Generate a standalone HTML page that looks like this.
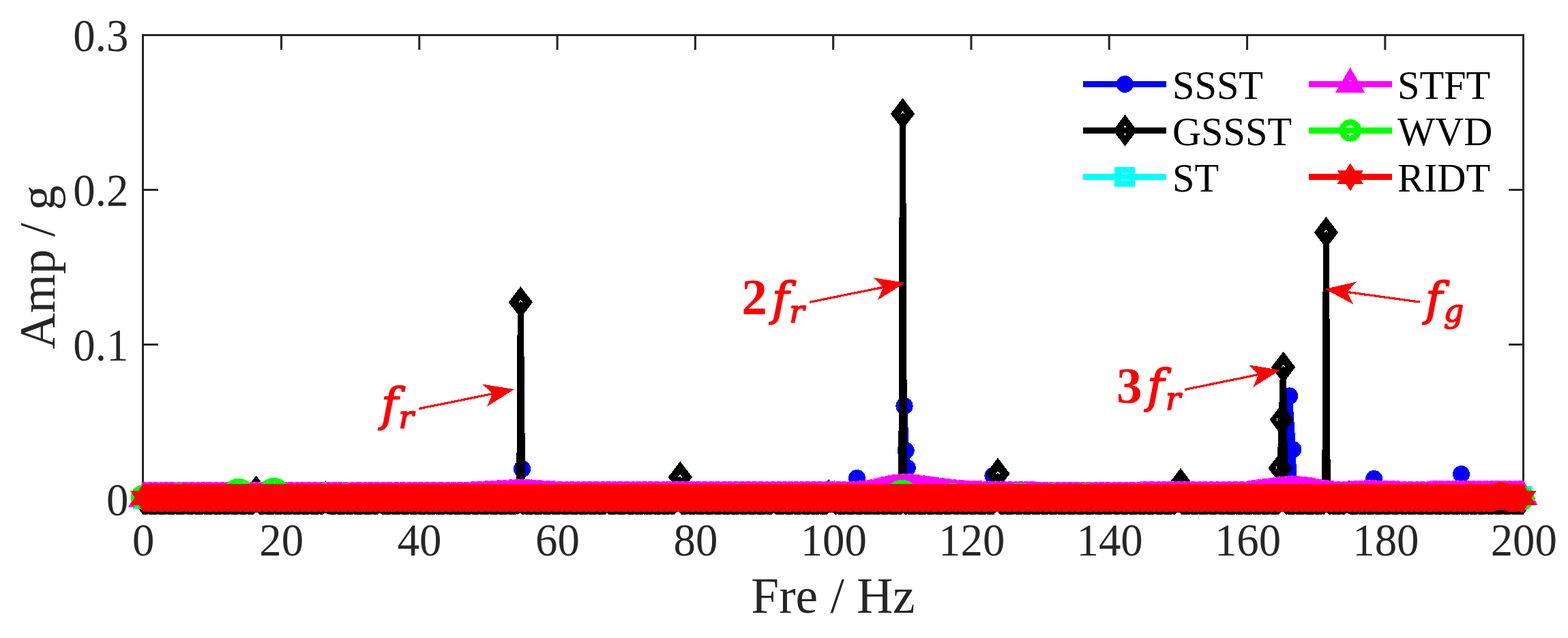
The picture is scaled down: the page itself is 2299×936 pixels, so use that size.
<!DOCTYPE html>
<html lang="en"><head><meta charset="utf-8"><title>Fre / Hz vs Amp / g</title>
<style>html,body{margin:0;padding:0;background:#fff}body{width:2299px;height:936px;overflow:hidden}svg{display:block}text{font-family:"Liberation Serif","DejaVu Serif",serif}</style></head><body>
<svg width="2299" height="936" viewBox="0 0 2299 936">
<rect width="2299" height="936" fill="#fff"/>
<g fill="#262626">
<rect x="208" y="50" width="2027" height="3"/>
<rect x="208" y="731" width="2027" height="3"/>
<rect x="208" y="50" width="3" height="684"/>
<rect x="2232" y="50" width="3" height="684"/>
<rect x="410.94" y="53" width="3.1" height="20"/>
<rect x="410.94" y="711" width="3.1" height="20"/>
<rect x="613.23" y="53" width="3.1" height="20"/>
<rect x="613.23" y="711" width="3.1" height="20"/>
<rect x="815.52" y="53" width="3.1" height="20"/>
<rect x="815.52" y="711" width="3.1" height="20"/>
<rect x="1017.81" y="53" width="3.1" height="20"/>
<rect x="1017.81" y="711" width="3.1" height="20"/>
<rect x="1220.10" y="53" width="3.1" height="20"/>
<rect x="1220.10" y="711" width="3.1" height="20"/>
<rect x="1422.39" y="53" width="3.1" height="20"/>
<rect x="1422.39" y="711" width="3.1" height="20"/>
<rect x="1624.68" y="53" width="3.1" height="20"/>
<rect x="1624.68" y="711" width="3.1" height="20"/>
<rect x="1826.97" y="53" width="3.1" height="20"/>
<rect x="1826.97" y="711" width="3.1" height="20"/>
<rect x="2029.26" y="53" width="3.1" height="20"/>
<rect x="2029.26" y="711" width="3.1" height="20"/>
<rect x="211" y="504" width="21" height="3"/>
<rect x="2212" y="504" width="20" height="3"/>
<rect x="211" y="277" width="21" height="3"/>
<rect x="2212" y="277" width="20" height="3"/>
</g>
<g fill="#262626" font-size="66.67">
<text transform="translate(210.3,814.5) scale(0.972,1.030)" text-anchor="middle">0</text>
<text transform="translate(412.7,814.5) scale(0.972,1.030)" text-anchor="middle">20</text>
<text transform="translate(615.1,814.5) scale(0.972,1.030)" text-anchor="middle">40</text>
<text transform="translate(817.5,814.5) scale(0.972,1.030)" text-anchor="middle">60</text>
<text transform="translate(1019.9,814.5) scale(0.972,1.030)" text-anchor="middle">80</text>
<text transform="translate(1222.3,814.5) scale(0.972,1.030)" text-anchor="middle">100</text>
<text transform="translate(1424.7,814.5) scale(0.972,1.030)" text-anchor="middle">120</text>
<text transform="translate(1627.1,814.5) scale(0.972,1.030)" text-anchor="middle">140</text>
<text transform="translate(1829.5,814.5) scale(0.972,1.030)" text-anchor="middle">160</text>
<text transform="translate(2031.9,814.5) scale(0.972,1.030)" text-anchor="middle">180</text>
<text transform="translate(2234.3,814.5) scale(0.972,1.030)" text-anchor="middle">200</text>
<text transform="translate(188.3,755.8) scale(0.972,1.030)" text-anchor="end">0</text>
<text transform="translate(188.3,528.8) scale(0.972,1.030)" text-anchor="end">0.1</text>
<text transform="translate(188.3,301.8) scale(0.972,1.030)" text-anchor="end">0.2</text>
<text transform="translate(188.3,74.8) scale(0.972,1.030)" text-anchor="end">0.3</text>
</g>
<text x="1221.5" y="898.7" text-anchor="middle" font-size="73.33" fill="#262626">Fre / Hz</text>
<text transform="translate(80,392) rotate(-90)" text-anchor="middle" font-size="73.33" fill="#262626">Amp / g</text>
<g shape-rendering="crispEdges">
<polyline points="765.5,688.0 765.5,732.0" fill="none" stroke="#0000ff" stroke-width="9.0" stroke-linejoin="miter"/>
<polyline points="1323.0,732.0 1326.0,595.6 1328.1,660.9 1330.2,686.7 1334.0,732.0" fill="none" stroke="#0000ff" stroke-width="9.0" stroke-linejoin="miter"/>
<polyline points="1886.0,732.0 1890.5,581.0 1895.6,659.5 1897.0,732.0" fill="none" stroke="#0000ff" stroke-width="9.0" stroke-linejoin="miter"/>
<circle cx="765.5" cy="688.0" r="12.6" fill="#0000ff"/>
<circle cx="1256.5" cy="701.5" r="12.6" fill="#0000ff"/>
<circle cx="1326.0" cy="595.6" r="12.6" fill="#0000ff"/>
<circle cx="1328.1" cy="660.9" r="12.6" fill="#0000ff"/>
<circle cx="1330.2" cy="686.7" r="12.6" fill="#0000ff"/>
<circle cx="1456.0" cy="698.0" r="12.6" fill="#0000ff"/>
<circle cx="1890.5" cy="581.0" r="12.6" fill="#0000ff"/>
<circle cx="1895.6" cy="659.5" r="12.6" fill="#0000ff"/>
<circle cx="2014.6" cy="702.5" r="12.6" fill="#0000ff"/>
<circle cx="2142.5" cy="695.6" r="12.6" fill="#0000ff"/>
<polygon points="758.8,443.4 767.8,443.4 770.4,735.0 757.1,735.0" fill="#000"/>
<polygon points="1319.0,167.0 1328.0,167.0 1330.2,735.0 1317.2,735.0" fill="#000"/>
<polygon points="1939.9,341.0 1948.9,341.0 1950.8,735.0 1938.2,735.0" fill="#000"/>
<polygon points="1877.1,538.8 1886.1,538.8 1888.6,735.0 1871.0,735.0 1872.6,686.8 1874.7,615.8" fill="#000"/>
<polygon points="763.3,420.2 781.0,443.4 763.3,466.6 745.6,443.4" fill="#000"/>
<path d="M760.7,442.8 l2.6,-3.4 l2.6,3.4 v1.6 l-2.6,-2.6 l-2.6,2.6 Z" fill="#fff"/>
<polygon points="1323.5,143.8 1341.2,167.0 1323.5,190.2 1305.8,167.0" fill="#000"/>
<path d="M1320.9,166.4 l2.6,-3.4 l2.6,3.4 v1.6 l-2.6,-2.6 l-2.6,2.6 Z" fill="#fff"/>
<polygon points="1944.4,317.8 1962.1,341.0 1944.4,364.2 1926.7,341.0" fill="#000"/>
<path d="M1941.8,340.4 l2.6,-3.4 l2.6,3.4 v1.6 l-2.6,-2.6 l-2.6,2.6 Z" fill="#fff"/>
<polygon points="1881.6,515.6 1899.3,538.8 1881.6,562.0 1863.9,538.8" fill="#000"/>
<path d="M1879.0,538.2 l2.6,-3.4 l2.6,3.4 v1.6 l-2.6,-2.6 l-2.6,2.6 Z" fill="#fff"/>
<polygon points="997.3,676.8 1015.0,700.0 997.3,723.2 979.6,700.0" fill="#000"/>
<path d="M994.7,699.4 l2.6,-3.4 l2.6,3.4 v1.6 l-2.6,-2.6 l-2.6,2.6 Z" fill="#fff"/>
<polygon points="1463.0,671.8 1480.7,695.0 1463.0,718.2 1445.3,695.0" fill="#000"/>
<path d="M1460.4,694.4 l2.6,-3.4 l2.6,3.4 v1.6 l-2.6,-2.6 l-2.6,2.6 Z" fill="#fff"/>
<polygon points="1879.2,592.6 1896.9,615.8 1879.2,639.0 1861.5,615.8" fill="#000"/>
<polygon points="1877.1,663.6 1894.8,686.8 1877.1,710.0 1859.4,686.8" fill="#000"/>
<polygon points="375.7,697.6 393.4,720.8 375.7,744.0 358.0,720.8" fill="#000"/>
<polygon points="1731.0,686.8 1748.7,710.0 1731.0,733.2 1713.3,710.0" fill="#000"/>
<polygon points="477.4,705.3 495.1,728.5 477.4,751.7 459.7,728.5" fill="#000"/>
<polygon points="557.0,706.8 574.7,730.0 557.0,753.2 539.3,730.0" fill="#000"/>
<polygon points="1978.0,704.8 1995.7,728.0 1978.0,751.2 1960.3,728.0" fill="#000"/>
<polygon points="1215.3,703.1 1233.0,726.3 1215.3,749.5 1197.6,726.3" fill="#000"/>
<polygon points="1223.5,704.6 1241.2,727.8 1223.5,751.0 1205.8,727.8" fill="#000"/>
<rect x="1872" y="613" width="1.4" height="5" fill="#fff"/>
<rect x="1871" y="684" width="1.4" height="4" fill="#fff"/>
<polygon points="192.0,732.0 209.5,709.0 2233.5,709.0 2251.0,731.5 2233.5,754.8 209.5,754.8" fill="#000"/>
<rect x="195" y="717" width="30" height="30" fill="#00ffff"/>
<rect x="2217" y="713" width="30" height="14" fill="#00ffff"/>
<polygon points="188.0,744.0 209.5,707.0 680.0,707.0 708.0,705.7 734.0,704.2 752.0,703.2 765.0,702.9 778.0,703.4 792.0,704.4 818.0,705.7 870.0,706.2 950.0,706.0 975.0,705.5 1010.0,705.6 1040.0,706.0 1200.0,706.2 1242.0,706.2 1258.0,705.6 1268.0,705.0 1281.0,702.4 1294.0,699.1 1303.0,697.2 1311.0,696.0 1320.0,695.0 1326.0,694.6 1334.0,695.0 1343.0,696.0 1352.0,697.0 1365.0,698.8 1378.0,700.7 1391.0,702.3 1404.0,703.7 1417.0,704.7 1430.0,705.4 1483.0,706.0 1540.0,706.8 1600.0,707.2 1684.0,706.4 1789.0,706.0 1828.0,705.6 1841.0,703.7 1851.0,702.4 1860.0,701.4 1873.0,699.3 1885.0,698.5 1903.0,698.2 1914.0,699.2 1925.0,700.7 1938.0,703.5 1951.0,705.0 1964.0,706.3 1977.0,705.7 1990.0,704.9 2003.0,704.4 2030.0,704.6 2056.0,705.7 2121.0,705.4 2160.0,705.2 2195.0,705.5 2215.0,705.0 2233.5,704.5 2254.8,741.0 2233.0,741.0 209.5,744.0" fill="#ff00ff"/>
<circle cx="210.0" cy="729.5" r="18.3" fill="#00ff00"/>
<circle cx="2232.0" cy="731.0" r="17.8" fill="#00ff00"/>
<ellipse cx="349.6" cy="726" rx="24" ry="24.2" fill="#00ff00"/>
<ellipse cx="401.8" cy="725" rx="24" ry="24.2" fill="#00ff00"/>
<ellipse cx="1322.5" cy="716" rx="19" ry="12" fill="#00ff00"/>
<polygon points="209.5,710.2 2189.0,710.2 2194.0,708.4 2198.0,707.2 2203.0,707.2 2207.0,708.4 2213.0,710.2 2233.5,709.6 2239.4,720.1 2252.5,720.1 2245.3,730.6 2252.5,741.1 2239.4,741.1 2233.5,751.6 2213.0,751.0 2207.0,749.2 2203.0,748.0 2198.0,748.0 2194.0,749.2 2189.0,751.0 209.5,751.0 203.6,740.5 190.5,740.5 197.7,730.0 190.5,719.5 203.6,719.5" fill="#ff0000"/>
<path d="M214 707h1v1h-1zM216 707h1v1h-1zM223 707h1v1h-1zM231 707h1v1h-1zM233 707h1v1h-1zM239 707h1v1h-1zM247 707h1v1h-1zM256 707h1v1h-1zM258 707h1v1h-1zM266 707h1v1h-1zM275 707h1v1h-1zM277 707h1v1h-1zM285 707h1v1h-1zM287 707h1v1h-1zM293 707h1v1h-1zM301 707h1v1h-1zM311 707h1v1h-1zM313 707h1v1h-1zM320 707h1v1h-1zM322 707h1v1h-1zM329 707h1v1h-1zM331 707h1v1h-1zM338 707h1v1h-1zM347 707h1v1h-1zM356 707h1v1h-1zM358 707h1v1h-1zM365 707h1v1h-1zM373 707h1v1h-1zM382 707h1v1h-1zM392 707h1v1h-1zM402 707h1v1h-1zM412 707h1v1h-1zM421 707h1v1h-1zM430 707h1v1h-1zM432 707h1v1h-1zM439 707h1v1h-1zM448 707h1v1h-1zM457 707h1v1h-1zM465 707h1v1h-1zM467 707h1v1h-1zM475 707h1v1h-1zM477 707h1v1h-1zM484 707h1v1h-1zM486 707h1v1h-1zM494 707h1v1h-1zM502 707h1v1h-1zM511 707h1v1h-1zM513 707h1v1h-1zM520 707h1v1h-1zM530 707h1v1h-1zM532 707h1v1h-1zM538 707h1v1h-1zM548 707h1v1h-1zM556 707h1v1h-1zM558 707h1v1h-1zM565 707h1v1h-1zM575 707h1v1h-1zM577 707h1v1h-1zM585 707h1v1h-1zM594 707h1v1h-1zM596 707h1v1h-1zM604 707h1v1h-1zM612 707h1v1h-1zM621 707h1v1h-1zM630 707h1v1h-1zM640 707h1v1h-1zM650 707h1v1h-1zM652 707h1v1h-1zM660 707h1v1h-1zM669 707h1v1h-1zM679 707h1v1h-1zM688 707h1v1h-1zM697 706h1v1h-1zM707 706h1v1h-1zM716 705h1v1h-1zM718 705h1v1h-1zM725 705h1v1h-1zM727 705h1v1h-1zM734 704h1v1h-1zM736 704h1v1h-1zM743 704h1v1h-1zM745 704h1v1h-1zM751 703h1v1h-1zM753 703h1v1h-1zM760 703h1v1h-1zM769 703h1v1h-1zM777 703h1v1h-1zM787 704h1v1h-1zM797 705h1v1h-1zM799 705h1v1h-1zM807 705h1v1h-1zM809 705h1v1h-1zM815 706h1v1h-1zM825 706h1v1h-1zM827 706h1v1h-1zM834 706h1v1h-1zM842 706h1v1h-1zM844 706h1v1h-1zM851 706h1v1h-1zM860 706h1v1h-1zM868 706h1v1h-1zM878 706h1v1h-1zM880 706h1v1h-1zM887 706h1v1h-1zM896 706h1v1h-1zM904 706h1v1h-1zM914 706h1v1h-1zM923 706h1v1h-1zM925 706h1v1h-1zM931 706h1v1h-1zM940 706h1v1h-1zM949 706h1v1h-1zM958 706h1v1h-1zM967 706h1v1h-1zM969 706h1v1h-1zM975 706h1v1h-1zM984 706h1v1h-1zM992 706h1v1h-1zM1001 706h1v1h-1zM1010 706h1v1h-1zM1019 706h1v1h-1zM1028 706h1v1h-1zM1037 706h1v1h-1zM1047 706h1v1h-1zM1056 706h1v1h-1zM1058 706h1v1h-1zM1066 706h1v1h-1zM1074 706h1v1h-1zM1083 706h1v1h-1zM1092 706h1v1h-1zM1101 706h1v1h-1zM1110 706h1v1h-1zM1119 706h1v1h-1zM1121 706h1v1h-1zM1127 706h1v1h-1zM1129 706h1v1h-1zM1136 706h1v1h-1zM1138 706h1v1h-1zM1146 706h1v1h-1zM1154 706h1v1h-1zM1163 706h1v1h-1zM1171 706h1v1h-1zM1179 706h1v1h-1zM1188 706h1v1h-1zM1197 706h1v1h-1zM1206 706h1v1h-1zM1208 706h1v1h-1zM1216 706h1v1h-1zM1224 706h1v1h-1zM1233 706h1v1h-1zM1241 706h1v1h-1zM1243 706h1v1h-1zM1251 706h1v1h-1zM1260 705h1v1h-1zM1270 705h1v1h-1zM1279 703h1v1h-1zM1281 703h1v1h-1zM1288 701h1v1h-1zM1290 701h1v1h-1zM1296 699h1v1h-1zM1305 697h1v1h-1zM1314 696h1v1h-1zM1323 695h1v1h-1zM1325 695h1v1h-1zM1332 695h1v1h-1zM1334 695h1v1h-1zM1341 696h1v1h-1zM1350 697h1v1h-1zM1352 697h1v1h-1zM1360 698h1v1h-1zM1368 699h1v1h-1zM1377 701h1v1h-1zM1387 702h1v1h-1zM1396 703h1v1h-1zM1404 704h1v1h-1zM1413 704h1v1h-1zM1422 705h1v1h-1zM1424 705h1v1h-1zM1432 705h1v1h-1zM1440 706h1v1h-1zM1449 706h1v1h-1zM1459 706h1v1h-1zM1467 706h1v1h-1zM1475 706h1v1h-1zM1477 706h1v1h-1zM1484 706h1v1h-1zM1486 706h1v1h-1zM1492 706h1v1h-1zM1500 706h1v1h-1zM1508 706h1v1h-1zM1517 706h1v1h-1zM1527 707h1v1h-1zM1537 707h1v1h-1zM1546 707h1v1h-1zM1555 707h1v1h-1zM1564 707h1v1h-1zM1573 707h1v1h-1zM1583 707h1v1h-1zM1591 707h1v1h-1zM1601 707h1v1h-1zM1603 707h1v1h-1zM1610 707h1v1h-1zM1619 707h1v1h-1zM1628 707h1v1h-1zM1630 707h1v1h-1zM1637 707h1v1h-1zM1646 707h1v1h-1zM1654 707h1v1h-1zM1664 707h1v1h-1zM1666 707h1v1h-1zM1673 707h1v1h-1zM1675 707h1v1h-1zM1683 706h1v1h-1zM1693 706h1v1h-1zM1695 706h1v1h-1zM1702 706h1v1h-1zM1710 706h1v1h-1zM1718 706h1v1h-1zM1720 706h1v1h-1zM1728 706h1v1h-1zM1736 706h1v1h-1zM1745 706h1v1h-1zM1753 706h1v1h-1zM1755 706h1v1h-1zM1762 706h1v1h-1zM1770 706h1v1h-1zM1772 706h1v1h-1zM1779 706h1v1h-1zM1781 706h1v1h-1zM1788 706h1v1h-1zM1790 706h1v1h-1zM1797 706h1v1h-1zM1806 706h1v1h-1zM1816 706h1v1h-1zM1824 706h1v1h-1zM1826 706h1v1h-1zM1833 705h1v1h-1zM1841 704h1v1h-1zM1843 704h1v1h-1zM1849 703h1v1h-1zM1858 702h1v1h-1zM1860 702h1v1h-1zM1867 700h1v1h-1zM1869 700h1v1h-1zM1875 699h1v1h-1zM1884 699h1v1h-1zM1894 698h1v1h-1zM1903 698h1v1h-1zM1911 699h1v1h-1zM1920 700h1v1h-1zM1929 702h1v1h-1zM1931 702h1v1h-1zM1938 704h1v1h-1zM1940 704h1v1h-1zM1947 705h1v1h-1zM1956 706h1v1h-1zM1958 706h1v1h-1zM1965 706h1v1h-1zM1967 706h1v1h-1zM1973 706h1v1h-1zM1981 705h1v1h-1zM1983 705h1v1h-1zM1990 705h1v1h-1zM1999 705h1v1h-1zM2007 704h1v1h-1zM2017 705h1v1h-1zM2027 705h1v1h-1zM2036 705h1v1h-1zM2045 705h1v1h-1zM2047 705h1v1h-1zM2054 706h1v1h-1zM2063 706h1v1h-1zM2072 706h1v1h-1zM2074 706h1v1h-1zM2081 706h1v1h-1zM2089 706h1v1h-1zM2091 706h1v1h-1zM2099 706h1v1h-1zM2108 705h1v1h-1zM2117 705h1v1h-1zM2119 705h1v1h-1zM2126 705h1v1h-1zM2128 705h1v1h-1zM2136 705h1v1h-1zM2138 705h1v1h-1zM2145 705h1v1h-1zM2154 705h1v1h-1zM2156 705h1v1h-1zM2163 705h1v1h-1zM2165 705h1v1h-1zM2172 705h1v1h-1zM2174 705h1v1h-1zM2182 705h1v1h-1zM2184 705h1v1h-1zM2191 705h1v1h-1zM2200 705h1v1h-1zM2202 705h1v1h-1zM2208 705h1v1h-1zM2210 705h1v1h-1zM2216 705h1v1h-1zM2218 705h1v1h-1zM2224 705h1v1h-1z" fill="#fff"/>
<path d="M216 710h1v1h-1zM218 710h1v1h-1zM225 710h1v1h-1zM227 710h1v1h-1zM234 710h1v1h-1zM244 710h1v1h-1zM254 710h1v1h-1zM256 710h1v1h-1zM263 710h1v1h-1zM265 710h1v1h-1zM273 710h1v1h-1zM282 710h1v1h-1zM290 710h1v1h-1zM299 710h1v1h-1zM301 710h1v1h-1zM307 710h1v1h-1zM309 710h1v1h-1zM316 710h1v1h-1zM326 710h1v1h-1zM334 710h1v1h-1zM343 710h1v1h-1zM351 710h1v1h-1zM359 710h1v1h-1zM367 710h1v1h-1zM375 710h1v1h-1zM385 710h1v1h-1zM387 710h1v1h-1zM393 710h1v1h-1zM402 710h1v1h-1zM411 710h1v1h-1zM413 710h1v1h-1zM421 710h1v1h-1zM431 710h1v1h-1zM433 710h1v1h-1zM440 710h1v1h-1zM449 710h1v1h-1zM451 710h1v1h-1zM458 710h1v1h-1zM460 710h1v1h-1zM467 710h1v1h-1zM476 710h1v1h-1zM478 710h1v1h-1zM484 710h1v1h-1zM492 710h1v1h-1zM502 710h1v1h-1zM504 710h1v1h-1zM511 710h1v1h-1zM521 710h1v1h-1zM530 710h1v1h-1zM532 710h1v1h-1zM538 710h1v1h-1zM546 710h1v1h-1zM548 710h1v1h-1zM554 710h1v1h-1zM564 710h1v1h-1zM574 710h1v1h-1zM576 710h1v1h-1zM583 710h1v1h-1zM585 710h1v1h-1zM591 710h1v1h-1zM593 710h1v1h-1zM600 710h1v1h-1zM609 710h1v1h-1zM618 710h1v1h-1zM627 710h1v1h-1zM629 710h1v1h-1zM637 710h1v1h-1zM646 710h1v1h-1zM648 710h1v1h-1zM656 710h1v1h-1zM666 710h1v1h-1zM668 710h1v1h-1zM675 710h1v1h-1zM685 710h1v1h-1zM687 710h1v1h-1zM694 710h1v1h-1zM696 710h1v1h-1zM703 710h1v1h-1zM711 710h1v1h-1zM720 710h1v1h-1zM729 710h1v1h-1zM731 710h1v1h-1zM737 710h1v1h-1zM745 710h1v1h-1zM755 710h1v1h-1zM763 710h1v1h-1zM765 710h1v1h-1zM771 710h1v1h-1zM780 710h1v1h-1zM789 710h1v1h-1zM791 710h1v1h-1zM798 710h1v1h-1zM807 710h1v1h-1zM809 710h1v1h-1zM816 710h1v1h-1zM826 710h1v1h-1zM836 710h1v1h-1zM845 710h1v1h-1zM853 710h1v1h-1zM863 710h1v1h-1zM872 710h1v1h-1zM881 710h1v1h-1zM890 710h1v1h-1zM892 710h1v1h-1zM900 710h1v1h-1zM902 710h1v1h-1zM909 710h1v1h-1zM911 710h1v1h-1zM918 710h1v1h-1zM927 710h1v1h-1zM929 710h1v1h-1zM937 710h1v1h-1zM939 710h1v1h-1zM946 710h1v1h-1zM948 710h1v1h-1zM956 710h1v1h-1zM966 710h1v1h-1zM976 710h1v1h-1zM985 710h1v1h-1zM987 710h1v1h-1zM994 710h1v1h-1zM996 710h1v1h-1zM1002 710h1v1h-1zM1004 710h1v1h-1zM1011 710h1v1h-1zM1013 710h1v1h-1zM1020 710h1v1h-1zM1030 710h1v1h-1zM1039 710h1v1h-1zM1048 710h1v1h-1zM1058 710h1v1h-1zM1060 710h1v1h-1zM1067 710h1v1h-1zM1069 710h1v1h-1zM1076 710h1v1h-1zM1078 710h1v1h-1zM1085 710h1v1h-1zM1095 710h1v1h-1zM1104 710h1v1h-1zM1112 710h1v1h-1zM1114 710h1v1h-1zM1122 710h1v1h-1zM1132 710h1v1h-1zM1142 710h1v1h-1zM1144 710h1v1h-1zM1152 710h1v1h-1zM1162 710h1v1h-1zM1171 710h1v1h-1zM1180 710h1v1h-1zM1182 710h1v1h-1zM1188 710h1v1h-1zM1198 710h1v1h-1zM1200 710h1v1h-1zM1206 710h1v1h-1zM1208 710h1v1h-1zM1215 710h1v1h-1zM1217 710h1v1h-1zM1223 710h1v1h-1zM1232 710h1v1h-1zM1241 710h1v1h-1zM1251 710h1v1h-1zM1259 710h1v1h-1zM1261 710h1v1h-1zM1268 710h1v1h-1zM1277 710h1v1h-1zM1286 710h1v1h-1zM1294 710h1v1h-1zM1296 710h1v1h-1zM1303 710h1v1h-1zM1312 710h1v1h-1zM1321 710h1v1h-1zM1330 710h1v1h-1zM1338 710h1v1h-1zM1347 710h1v1h-1zM1349 710h1v1h-1zM1356 710h1v1h-1zM1366 710h1v1h-1zM1368 710h1v1h-1zM1375 710h1v1h-1zM1384 710h1v1h-1zM1386 710h1v1h-1zM1392 710h1v1h-1zM1402 710h1v1h-1zM1412 710h1v1h-1zM1414 710h1v1h-1zM1421 710h1v1h-1zM1429 710h1v1h-1zM1431 710h1v1h-1zM1438 710h1v1h-1zM1440 710h1v1h-1zM1447 710h1v1h-1zM1449 710h1v1h-1zM1456 710h1v1h-1zM1458 710h1v1h-1zM1465 710h1v1h-1zM1467 710h1v1h-1zM1475 710h1v1h-1zM1484 710h1v1h-1zM1492 710h1v1h-1zM1501 710h1v1h-1zM1509 710h1v1h-1zM1511 710h1v1h-1zM1518 710h1v1h-1zM1526 710h1v1h-1zM1528 710h1v1h-1zM1536 710h1v1h-1zM1545 710h1v1h-1zM1553 710h1v1h-1zM1562 710h1v1h-1zM1564 710h1v1h-1zM1572 710h1v1h-1zM1574 710h1v1h-1zM1582 710h1v1h-1zM1591 710h1v1h-1zM1599 710h1v1h-1zM1601 710h1v1h-1zM1608 710h1v1h-1zM1610 710h1v1h-1zM1618 710h1v1h-1zM1626 710h1v1h-1zM1635 710h1v1h-1zM1644 710h1v1h-1zM1654 710h1v1h-1zM1656 710h1v1h-1zM1664 710h1v1h-1zM1666 710h1v1h-1zM1674 710h1v1h-1zM1676 710h1v1h-1zM1683 710h1v1h-1zM1693 710h1v1h-1zM1695 710h1v1h-1zM1703 710h1v1h-1zM1705 710h1v1h-1zM1713 710h1v1h-1zM1715 710h1v1h-1zM1721 710h1v1h-1zM1729 710h1v1h-1zM1731 710h1v1h-1zM1737 710h1v1h-1zM1746 710h1v1h-1zM1755 710h1v1h-1zM1763 710h1v1h-1zM1765 710h1v1h-1zM1772 710h1v1h-1zM1781 710h1v1h-1zM1783 710h1v1h-1zM1789 710h1v1h-1zM1791 710h1v1h-1zM1798 710h1v1h-1zM1800 710h1v1h-1zM1808 710h1v1h-1zM1818 710h1v1h-1zM1828 710h1v1h-1zM1837 710h1v1h-1zM1846 710h1v1h-1zM1848 710h1v1h-1zM1855 710h1v1h-1zM1864 710h1v1h-1zM1873 710h1v1h-1zM1883 710h1v1h-1zM1891 710h1v1h-1zM1901 710h1v1h-1zM1910 710h1v1h-1zM1918 710h1v1h-1zM1927 710h1v1h-1zM1929 710h1v1h-1zM1937 710h1v1h-1zM1945 710h1v1h-1zM1947 710h1v1h-1zM1953 710h1v1h-1zM1955 710h1v1h-1zM1963 710h1v1h-1zM1973 710h1v1h-1zM1975 710h1v1h-1zM1982 710h1v1h-1zM1991 710h1v1h-1zM1999 710h1v1h-1zM2008 710h1v1h-1zM2010 710h1v1h-1zM2017 710h1v1h-1zM2026 710h1v1h-1zM2028 710h1v1h-1zM2035 710h1v1h-1zM2037 710h1v1h-1zM2044 710h1v1h-1zM2046 710h1v1h-1zM2053 710h1v1h-1zM2055 710h1v1h-1zM2063 710h1v1h-1zM2065 710h1v1h-1zM2072 710h1v1h-1zM2081 710h1v1h-1zM2089 710h1v1h-1zM2097 710h1v1h-1zM2099 710h1v1h-1zM2107 710h1v1h-1zM2116 710h1v1h-1zM2125 710h1v1h-1zM2127 710h1v1h-1zM2134 710h1v1h-1zM2136 710h1v1h-1zM2142 710h1v1h-1zM2144 710h1v1h-1zM2151 710h1v1h-1zM2160 710h1v1h-1zM2169 710h1v1h-1zM2178 710h1v1h-1zM2186 710h1v1h-1zM2188 710h1v1h-1zM2221 710h1v1h-1zM2223 710h1v1h-1zM2229 710h1v1h-1zM2231 710h1v1h-1z" fill="#ff00ff"/>
<path d="M213 750h1v1h-1zM215 750h1v1h-1zM222 750h1v1h-1zM231 750h1v1h-1zM240 750h1v1h-1zM242 750h1v1h-1zM249 750h1v1h-1zM251 750h1v1h-1zM257 750h1v1h-1zM267 750h1v1h-1zM269 750h1v1h-1zM275 750h1v1h-1zM284 750h1v1h-1zM292 750h1v1h-1zM302 750h1v1h-1zM312 750h1v1h-1zM321 750h1v1h-1zM329 750h1v1h-1zM331 750h1v1h-1zM338 750h1v1h-1zM346 750h1v1h-1zM355 750h1v1h-1zM365 750h1v1h-1zM374 750h1v1h-1zM384 750h1v1h-1zM394 750h1v1h-1zM396 750h1v1h-1zM402 750h1v1h-1zM411 750h1v1h-1zM420 750h1v1h-1zM422 750h1v1h-1zM428 750h1v1h-1zM438 750h1v1h-1zM440 750h1v1h-1zM447 750h1v1h-1zM456 750h1v1h-1zM458 750h1v1h-1zM465 750h1v1h-1zM467 750h1v1h-1zM474 750h1v1h-1zM482 750h1v1h-1zM491 750h1v1h-1zM493 750h1v1h-1zM499 750h1v1h-1zM509 750h1v1h-1zM511 750h1v1h-1zM519 750h1v1h-1zM521 750h1v1h-1zM528 750h1v1h-1zM537 750h1v1h-1zM546 750h1v1h-1zM555 750h1v1h-1zM563 750h1v1h-1zM572 750h1v1h-1zM580 750h1v1h-1zM582 750h1v1h-1zM589 750h1v1h-1zM591 750h1v1h-1zM597 750h1v1h-1zM606 750h1v1h-1zM608 750h1v1h-1zM616 750h1v1h-1zM625 750h1v1h-1zM634 750h1v1h-1zM644 750h1v1h-1zM653 750h1v1h-1zM663 750h1v1h-1zM665 750h1v1h-1zM671 750h1v1h-1zM681 750h1v1h-1zM691 750h1v1h-1zM701 750h1v1h-1zM711 750h1v1h-1zM719 750h1v1h-1zM721 750h1v1h-1zM729 750h1v1h-1zM739 750h1v1h-1zM747 750h1v1h-1zM749 750h1v1h-1zM756 750h1v1h-1zM758 750h1v1h-1zM765 750h1v1h-1zM773 750h1v1h-1zM775 750h1v1h-1zM783 750h1v1h-1zM792 750h1v1h-1zM794 750h1v1h-1zM800 750h1v1h-1zM808 750h1v1h-1zM810 750h1v1h-1zM818 750h1v1h-1zM820 750h1v1h-1zM827 750h1v1h-1zM836 750h1v1h-1zM838 750h1v1h-1zM845 750h1v1h-1zM854 750h1v1h-1zM856 750h1v1h-1zM863 750h1v1h-1zM873 750h1v1h-1zM875 750h1v1h-1zM883 750h1v1h-1zM885 750h1v1h-1zM892 750h1v1h-1zM901 750h1v1h-1zM903 750h1v1h-1zM909 750h1v1h-1zM911 750h1v1h-1zM919 750h1v1h-1zM921 750h1v1h-1zM928 750h1v1h-1zM938 750h1v1h-1zM940 750h1v1h-1zM947 750h1v1h-1zM949 750h1v1h-1zM955 750h1v1h-1zM964 750h1v1h-1zM974 750h1v1h-1zM982 750h1v1h-1zM984 750h1v1h-1zM992 750h1v1h-1zM1001 750h1v1h-1zM1003 750h1v1h-1zM1010 750h1v1h-1zM1019 750h1v1h-1zM1021 750h1v1h-1zM1027 750h1v1h-1zM1036 750h1v1h-1zM1044 750h1v1h-1zM1046 750h1v1h-1zM1053 750h1v1h-1zM1055 750h1v1h-1zM1062 750h1v1h-1zM1070 750h1v1h-1zM1072 750h1v1h-1zM1079 750h1v1h-1zM1089 750h1v1h-1zM1098 750h1v1h-1zM1107 750h1v1h-1zM1115 750h1v1h-1zM1117 750h1v1h-1zM1123 750h1v1h-1zM1132 750h1v1h-1zM1134 750h1v1h-1zM1141 750h1v1h-1zM1151 750h1v1h-1zM1160 750h1v1h-1zM1162 750h1v1h-1zM1170 750h1v1h-1zM1172 750h1v1h-1zM1178 750h1v1h-1zM1187 750h1v1h-1zM1197 750h1v1h-1zM1199 750h1v1h-1zM1206 750h1v1h-1zM1215 750h1v1h-1zM1224 750h1v1h-1zM1232 750h1v1h-1zM1241 750h1v1h-1zM1251 750h1v1h-1zM1261 750h1v1h-1zM1263 750h1v1h-1zM1269 750h1v1h-1zM1271 750h1v1h-1zM1277 750h1v1h-1zM1286 750h1v1h-1zM1288 750h1v1h-1zM1294 750h1v1h-1zM1296 750h1v1h-1zM1303 750h1v1h-1zM1305 750h1v1h-1zM1312 750h1v1h-1zM1322 750h1v1h-1zM1331 750h1v1h-1zM1339 750h1v1h-1zM1341 750h1v1h-1zM1347 750h1v1h-1zM1357 750h1v1h-1zM1365 750h1v1h-1zM1375 750h1v1h-1zM1385 750h1v1h-1zM1387 750h1v1h-1zM1395 750h1v1h-1zM1397 750h1v1h-1zM1403 750h1v1h-1zM1405 750h1v1h-1zM1411 750h1v1h-1zM1413 750h1v1h-1zM1420 750h1v1h-1zM1429 750h1v1h-1zM1439 750h1v1h-1zM1448 750h1v1h-1zM1450 750h1v1h-1zM1457 750h1v1h-1zM1459 750h1v1h-1zM1465 750h1v1h-1zM1467 750h1v1h-1zM1474 750h1v1h-1zM1483 750h1v1h-1zM1492 750h1v1h-1zM1494 750h1v1h-1zM1502 750h1v1h-1zM1504 750h1v1h-1zM1511 750h1v1h-1zM1521 750h1v1h-1zM1529 750h1v1h-1zM1539 750h1v1h-1zM1548 750h1v1h-1zM1557 750h1v1h-1zM1567 750h1v1h-1zM1575 750h1v1h-1zM1584 750h1v1h-1zM1586 750h1v1h-1zM1592 750h1v1h-1zM1594 750h1v1h-1zM1601 750h1v1h-1zM1603 750h1v1h-1zM1610 750h1v1h-1zM1618 750h1v1h-1zM1620 750h1v1h-1zM1626 750h1v1h-1zM1634 750h1v1h-1zM1636 750h1v1h-1zM1643 750h1v1h-1zM1645 750h1v1h-1zM1651 750h1v1h-1zM1661 750h1v1h-1zM1663 750h1v1h-1zM1670 750h1v1h-1zM1672 750h1v1h-1zM1678 750h1v1h-1zM1680 750h1v1h-1zM1686 750h1v1h-1zM1695 750h1v1h-1zM1704 750h1v1h-1zM1706 750h1v1h-1zM1713 750h1v1h-1zM1715 750h1v1h-1zM1722 750h1v1h-1zM1730 750h1v1h-1zM1739 750h1v1h-1zM1741 750h1v1h-1zM1748 750h1v1h-1zM1758 750h1v1h-1zM1766 750h1v1h-1zM1774 750h1v1h-1zM1782 750h1v1h-1zM1784 750h1v1h-1zM1790 750h1v1h-1zM1799 750h1v1h-1zM1807 750h1v1h-1zM1816 750h1v1h-1zM1818 750h1v1h-1zM1824 750h1v1h-1zM1833 750h1v1h-1zM1841 750h1v1h-1zM1843 750h1v1h-1zM1851 750h1v1h-1zM1853 750h1v1h-1zM1860 750h1v1h-1zM1869 750h1v1h-1zM1878 750h1v1h-1zM1887 750h1v1h-1zM1889 750h1v1h-1zM1896 750h1v1h-1zM1905 750h1v1h-1zM1913 750h1v1h-1zM1921 750h1v1h-1zM1929 750h1v1h-1zM1938 750h1v1h-1zM1940 750h1v1h-1zM1948 750h1v1h-1zM1956 750h1v1h-1zM1964 750h1v1h-1zM1973 750h1v1h-1zM1975 750h1v1h-1zM1982 750h1v1h-1zM1991 750h1v1h-1zM2000 750h1v1h-1zM2008 750h1v1h-1zM2010 750h1v1h-1zM2017 750h1v1h-1zM2027 750h1v1h-1zM2036 750h1v1h-1zM2038 750h1v1h-1zM2046 750h1v1h-1zM2055 750h1v1h-1zM2064 750h1v1h-1zM2066 750h1v1h-1zM2073 750h1v1h-1zM2082 750h1v1h-1zM2084 750h1v1h-1zM2091 750h1v1h-1zM2100 750h1v1h-1zM2109 750h1v1h-1zM2111 750h1v1h-1zM2118 750h1v1h-1zM2127 750h1v1h-1zM2135 750h1v1h-1zM2137 750h1v1h-1zM2143 750h1v1h-1zM2145 750h1v1h-1zM2152 750h1v1h-1zM2161 750h1v1h-1zM2171 750h1v1h-1zM2173 750h1v1h-1zM2179 750h1v1h-1zM2225 750h1v1h-1zM2227 750h1v1h-1z" fill="#000"/>
<path d="M217 754h1v1h-1zM231 754h1v1h-1zM244 754h1v1h-1zM257 754h1v1h-1zM271 754h1v1h-1zM273 754h1v1h-1zM284 754h1v1h-1zM298 754h1v1h-1zM312 754h1v1h-1zM325 754h1v1h-1zM337 754h1v1h-1zM350 754h1v1h-1zM362 754h1v1h-1zM375 754h1v1h-1zM388 754h1v1h-1zM402 754h1v1h-1zM414 754h1v1h-1zM428 754h1v1h-1zM441 754h1v1h-1zM454 754h1v1h-1zM468 754h1v1h-1zM480 754h1v1h-1zM482 754h1v1h-1zM493 754h1v1h-1zM506 754h1v1h-1zM518 754h1v1h-1zM532 754h1v1h-1zM546 754h1v1h-1zM559 754h1v1h-1zM573 754h1v1h-1zM587 754h1v1h-1zM600 754h1v1h-1zM612 754h1v1h-1zM625 754h1v1h-1zM638 754h1v1h-1zM652 754h1v1h-1zM654 754h1v1h-1zM664 754h1v1h-1zM678 754h1v1h-1zM691 754h1v1h-1zM703 754h1v1h-1zM717 754h1v1h-1zM730 754h1v1h-1zM744 754h1v1h-1zM757 754h1v1h-1zM759 754h1v1h-1zM769 754h1v1h-1zM782 754h1v1h-1zM795 754h1v1h-1zM808 754h1v1h-1zM822 754h1v1h-1zM835 754h1v1h-1zM848 754h1v1h-1zM862 754h1v1h-1zM875 754h1v1h-1zM889 754h1v1h-1zM903 754h1v1h-1zM917 754h1v1h-1zM919 754h1v1h-1zM930 754h1v1h-1zM943 754h1v1h-1zM957 754h1v1h-1zM969 754h1v1h-1zM982 754h1v1h-1zM995 754h1v1h-1zM1007 754h1v1h-1zM1009 754h1v1h-1zM1020 754h1v1h-1zM1033 754h1v1h-1zM1046 754h1v1h-1zM1058 754h1v1h-1zM1071 754h1v1h-1zM1084 754h1v1h-1zM1096 754h1v1h-1zM1109 754h1v1h-1zM1123 754h1v1h-1zM1136 754h1v1h-1zM1150 754h1v1h-1zM1163 754h1v1h-1zM1175 754h1v1h-1zM1188 754h1v1h-1zM1201 754h1v1h-1zM1215 754h1v1h-1zM1227 754h1v1h-1zM1240 754h1v1h-1zM1253 754h1v1h-1zM1265 754h1v1h-1zM1278 754h1v1h-1zM1291 754h1v1h-1zM1303 754h1v1h-1zM1316 754h1v1h-1zM1330 754h1v1h-1zM1344 754h1v1h-1zM1358 754h1v1h-1zM1370 754h1v1h-1zM1383 754h1v1h-1zM1395 754h1v1h-1zM1397 754h1v1h-1zM1407 754h1v1h-1zM1420 754h1v1h-1zM1432 754h1v1h-1zM1446 754h1v1h-1zM1459 754h1v1h-1zM1461 754h1v1h-1zM1473 754h1v1h-1zM1486 754h1v1h-1zM1488 754h1v1h-1zM1499 754h1v1h-1zM1512 754h1v1h-1zM1525 754h1v1h-1zM1537 754h1v1h-1zM1550 754h1v1h-1zM1564 754h1v1h-1zM1577 754h1v1h-1zM1590 754h1v1h-1zM1604 754h1v1h-1zM1617 754h1v1h-1zM1630 754h1v1h-1zM1632 754h1v1h-1zM1642 754h1v1h-1zM1654 754h1v1h-1zM1668 754h1v1h-1zM1680 754h1v1h-1zM1692 754h1v1h-1zM1694 754h1v1h-1zM1705 754h1v1h-1zM1719 754h1v1h-1zM1731 754h1v1h-1zM1745 754h1v1h-1zM1757 754h1v1h-1zM1771 754h1v1h-1zM1784 754h1v1h-1zM1786 754h1v1h-1zM1797 754h1v1h-1zM1811 754h1v1h-1zM1823 754h1v1h-1zM1836 754h1v1h-1zM1849 754h1v1h-1zM1862 754h1v1h-1zM1875 754h1v1h-1zM1877 754h1v1h-1zM1887 754h1v1h-1zM1899 754h1v1h-1zM1913 754h1v1h-1zM1927 754h1v1h-1zM1939 754h1v1h-1zM1952 754h1v1h-1zM1966 754h1v1h-1zM1978 754h1v1h-1zM1991 754h1v1h-1zM2003 754h1v1h-1zM2015 754h1v1h-1zM2027 754h1v1h-1zM2039 754h1v1h-1zM2051 754h1v1h-1zM2053 754h1v1h-1zM2063 754h1v1h-1zM2076 754h1v1h-1zM2089 754h1v1h-1zM2102 754h1v1h-1zM2115 754h1v1h-1zM2127 754h1v1h-1zM2141 754h1v1h-1zM2154 754h1v1h-1zM2166 754h1v1h-1zM2178 754h1v1h-1zM2180 754h1v1h-1zM2190 754h1v1h-1zM2203 754h1v1h-1zM2216 754h1v1h-1z" fill="#fff"/>
<polygon points="371.2,755.0 374.2,752.0 377.2,752.0 380.2,755.0" fill="#fff"/>
<polygon points="473.5,755.0 476.0,753.0 478.0,753.0 480.5,755.0" fill="#fff"/>
<polygon points="553.1,755.0 555.6,753.0 557.6,753.0 560.1,755.0" fill="#fff"/>
<polygon points="759.8,755.0 762.0,753.0 763.5,753.0 765.8,755.0" fill="#fff"/>
<polygon points="887.0,755.0 889.2,753.0 890.8,753.0 893.0,755.0" fill="#fff"/>
<polygon points="988.8,755.0 992.0,751.0 995.5,751.0 998.8,755.0" fill="#fff"/>
<polygon points="1131.8,755.0 1134.0,753.0 1135.5,753.0 1137.8,755.0" fill="#fff"/>
<polygon points="1212.4,755.0 1216.2,751.5 1220.7,751.5 1224.4,755.0" fill="#fff"/>
<polygon points="1321.0,755.0 1323.2,753.0 1324.8,753.0 1327.0,755.0" fill="#fff"/>
<polygon points="1457.3,755.0 1460.3,751.0 1463.3,751.0 1466.3,755.0" fill="#fff"/>
<polygon points="1723.0,755.0 1726.0,751.5 1729.0,751.5 1732.0,755.0" fill="#fff"/>
<polygon points="1875.0,755.0 1878.2,751.0 1881.8,751.0 1885.0,755.0" fill="#fff"/>
<polygon points="1941.3,755.0 1943.8,752.0 1945.8,752.0 1948.3,755.0" fill="#fff"/>
<polygon points="1971.5,755.0 1974.0,753.0 1976.0,753.0 1978.5,755.0" fill="#fff"/>
<rect x="255" y="709" width="12" height="1" fill="#00ff00"/>
<rect x="1392" y="709" width="10" height="1" fill="#00ff00"/>
<rect x="1486" y="709" width="18" height="1" fill="#00ff00"/>
<rect x="1540" y="709" width="8" height="1" fill="#00ff00"/>
<rect x="1586" y="709" width="12" height="1" fill="#00ff00"/>
<rect x="471" y="709" width="8" height="1" fill="#00ff00"/>
<rect x="503" y="709" width="8" height="1" fill="#00ff00"/>
<rect x="1080" y="709" width="3" height="1" fill="#00ff00"/>
</g>
<g shape-rendering="crispEdges">
<rect x="1588.0" y="118.9" width="122.3" height="9" fill="#0000ff"/>
<circle cx="1649.4" cy="123.4" r="12.5" fill="#0000ff"/>
<rect x="1588.0" y="186.9" width="122.3" height="9" fill="#000"/>
<path d="M1649.5,168.1 L1667.2,191.4 L1649.5,214.7 L1631.8,191.4 Z M1649.5,184 L1644,191.4 L1649.5,198.8 L1655,191.4 Z" fill="#000" fill-rule="evenodd"/>
<rect x="1640" y="187" width="19" height="9" fill="#000"/>
<rect x="1588.0" y="255.0" width="122.3" height="9" fill="#00ffff"/>
<path d="M1634.3,244.8 h30 v29.4 h-30 Z M1644,254 h10.6 v1.3 h-10.6 Z M1644,263.5 h10.6 v1.3 h-10.6 Z" fill="#00ffff" fill-rule="evenodd"/>
<rect x="1919.1" y="118.9" width="121.8" height="9" fill="#ff00ff"/>
<path d="M1979.7,99 L2001.2,136 L1957.8,136 Z M1979.7,116.5 L1978,119 L1981.4,119 Z" fill="#ff00ff" fill-rule="evenodd"/>
<rect x="1919.1" y="186.9" width="121.8" height="9" fill="#00ff00"/>
<path d="M1963.5,191.3 a16.3,16.3 0 1,0 32.6,0 a16.3,16.3 0 1,0 -32.6,0 Z M1972.3,191.3 a7.5,7.5 0 1,1 15,0 a7.5,7.5 0 1,1 -15,0 Z" fill="#00ff00" fill-rule="evenodd"/>
<rect x="1968" y="186.9" width="24" height="9" fill="#00ff00"/>
<rect x="1919.1" y="255.0" width="121.8" height="9" fill="#ff0000"/>
<polygon points="1979.8,239.2 1986.2,249.5 1999.1,249.5 1992.7,259.8 1999.1,270.1 1986.2,270.1 1979.8,280.4 1973.4,270.1 1960.5,270.1 1966.9,259.8 1960.5,249.5 1973.4,249.5" fill="#ff0000"/>
</g>
<g font-size="58.33" fill="#000">
<text x="1719" y="145">SSST</text>
<text x="1719" y="213">GSSST</text>
<text x="1719" y="280.8">ST</text>
<text x="2049" y="145">STFT</text>
<text x="2049" y="213">WVD</text>
<text x="2049" y="280.8">RIDT</text>
</g>
<g shape-rendering="crispEdges">
<line x1="614.1" y1="599.6" x2="722.1" y2="577.7" stroke="#ff0000" stroke-width="3.2"/>
<polygon points="754.1,571.2 714.0,596.4 722.1,577.7 707.4,563.6" fill="#ff0000"/>
<line x1="1187.0" y1="443.3" x2="1295.0" y2="421.4" stroke="#ff0000" stroke-width="3.2"/>
<polygon points="1327.0,414.9 1286.9,440.1 1295.0,421.4 1280.3,407.3" fill="#ff0000"/>
<line x1="1737.0" y1="571.6" x2="1845.2" y2="549.5" stroke="#ff0000" stroke-width="3.2"/>
<polygon points="1877.2,542.9 1837.1,568.1 1845.2,549.5 1830.5,535.4" fill="#ff0000"/>
<line x1="2081.6" y1="443.1" x2="1975.1" y2="428.4" stroke="#ff0000" stroke-width="3.2"/>
<polygon points="1942.7,423.9 1988.9,413.4 1975.1,428.4 1984.3,446.5" fill="#ff0000"/>
</g>
<text fill="#ff0000" stroke="#ff0000" stroke-width="1.7" stroke-linejoin="round"><tspan x="558.7" y="617.3" font-family="DejaVu Serif,Liberation Serif,serif" font-style="italic" font-size="68">f</tspan><tspan x="584.6" y="628.2" font-family="DejaVu Serif,Liberation Serif,serif" font-style="italic" font-size="46">r</tspan></text>
<text fill="#ff0000" stroke="#ff0000" stroke-width="1.7" stroke-linejoin="round"><tspan x="1087.2" y="461.0" font-family="Liberation Serif,serif" font-weight="bold" font-size="75" stroke="none">2</tspan><tspan x="1131.7" y="461.5" font-family="DejaVu Serif,Liberation Serif,serif" font-style="italic" font-size="68">f</tspan><tspan x="1157.3" y="472.7" font-family="DejaVu Serif,Liberation Serif,serif" font-style="italic" font-size="46">r</tspan></text>
<text fill="#ff0000" stroke="#ff0000" stroke-width="1.7" stroke-linejoin="round"><tspan x="1637.0" y="591.3" font-family="Liberation Serif,serif" font-weight="bold" font-size="75" stroke="none">3</tspan><tspan x="1681.8" y="590.3" font-family="DejaVu Serif,Liberation Serif,serif" font-style="italic" font-size="68">f</tspan><tspan x="1708.9" y="600.5" font-family="DejaVu Serif,Liberation Serif,serif" font-style="italic" font-size="46">r</tspan></text>
<text fill="#ff0000" stroke="#ff0000" stroke-width="1.7" stroke-linejoin="round"><tspan x="2089.7" y="461.5" font-family="DejaVu Serif,Liberation Serif,serif" font-style="italic" font-size="68">f</tspan><tspan x="2116.7" y="472.3" font-family="DejaVu Serif,Liberation Serif,serif" font-style="italic" font-size="46">g</tspan></text>
</svg></body></html>
